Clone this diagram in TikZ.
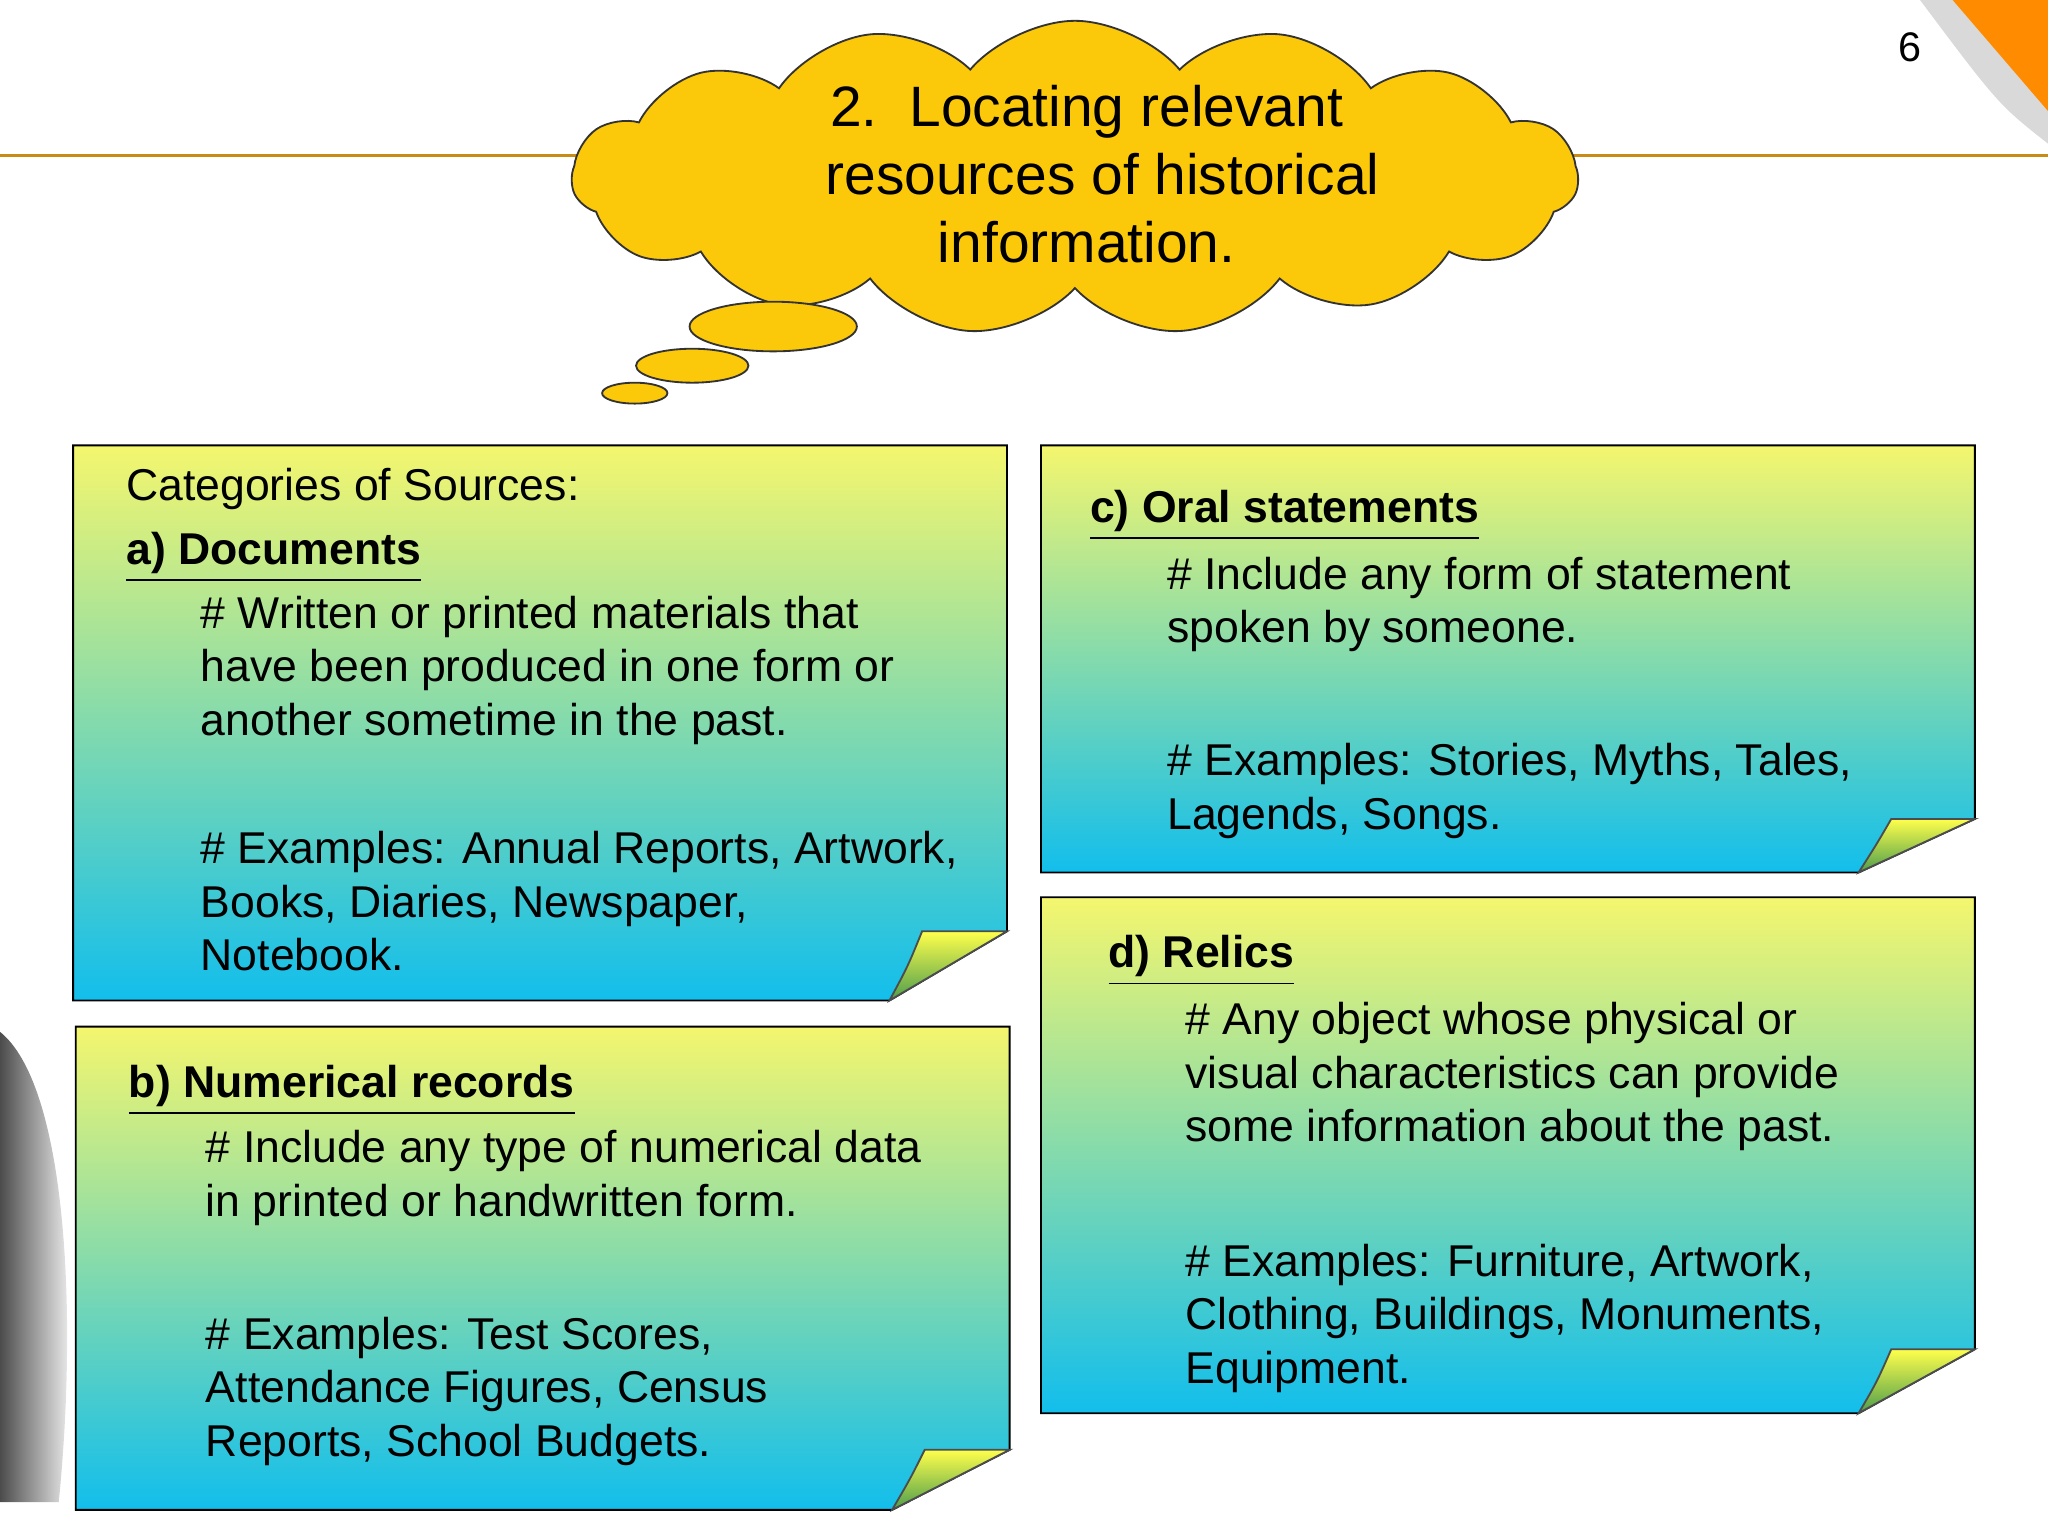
\documentclass[tikz,border=0pt]{standalone}
\usepackage{fontspec}
\setmainfont{Liberation Sans}
\usetikzlibrary{shapes.symbols,shapes.geometric,positioning}
\definecolor{topy}{RGB}{244,246,110}
\definecolor{boty}{RGB}{18,190,236}
\definecolor{cloudy}{RGB}{252,200,10}
\definecolor{rule}{RGB}{200,140,20}
\newcommand\lines[1]{\parbox[t]{8cm}{\raggedright #1}}

\begin{document}
\begin{tikzpicture}[x=0.01cm,y=-0.01cm,
  txt/.style={anchor=base west,inner sep=0pt,
    font=\fontsize{9.7}{11.7}\selectfont},%
  hd/.style={txt,font=\fontsize{9.7}{11.7}\selectfont\bfseries},%
  note/.style={draw=black,thin,top color=topy,bottom color=boty},%
  flap/.style={draw=black!70,thin,top color=yellow!70,bottom color=green!45!black!70},%
  puff/.style={ellipse,draw=black!80,fill=cloudy,inner sep=0pt},%
  ]
  \useasboundingbox (0,0) rectangle (1568,1176);

  % page decor
  \draw [rule,thick] (0,119) -- (1568,119);
  \shade [left color=black,right color=white,opacity=.7]
    (0,790) .. controls (50,830) and (60,1000) .. (45,1150) -- (0,1150) -- cycle;
  \fill [black!15] (1470,0) -- (1568,0) -- (1568,110) .. controls (1530,80) .. (1470,0);
  \fill [orange!90!yellow] (1495,0) -- (1568,0) -- (1568,85) -- cycle;
  \node (pg) [font=\fontsize{9}{10}\selectfont] at (1462,36) {6};

  % thought cloud
  \node (cloud) [cloud,cloud puffs=15,cloud puff arc=100,aspect=3.2,draw=black!80,fill=cloudy,
    minimum width=7.7cm,minimum height=2.4cm] at (823,136) {};
  \node (title) [align=center,font=\fontsize{12.4}{14.8}\selectfont]
    at (832,133) {2.\ \ Locating relevant\\ \ \ resources of historical\\information.};
  \node (p1) [puff,minimum width=1.28cm,minimum height=.38cm] at (592,250) {};
  \node (p2) [puff,minimum width=.86cm,minimum height=.26cm] at (530,280) {};
  \node (p3) [puff,minimum width=.5cm,minimum height=.16cm] at (486,301) {};

  % notes
  \draw [note] (56,341) -- (771,341) -- (771,713) -- (681,766) -- (56,766) -- cycle;
  \draw [flap] (681,766) .. controls (695,740) .. (706,713) -- (771,713) -- cycle;
  \draw [note] (58,786) -- (773,786) -- (773,1110) -- (683,1156) -- (58,1156) -- cycle;
  \draw [flap] (683,1156) .. controls (697,1132) .. (708,1110) -- (773,1110) -- cycle;
  \draw [note] (797,341) -- (1512,341) -- (1512,627) -- (1423,668) -- (797,668) -- cycle;
  \draw [flap] (1423,668) .. controls (1437,646) .. (1448,627) -- (1512,627) -- cycle;
  \draw [note] (797,687) -- (1512,687) -- (1512,1033) -- (1423,1082) -- (797,1082) -- cycle;
  \draw [flap] (1423,1082) .. controls (1437,1058) .. (1448,1033) -- (1512,1033) -- cycle;

  % a) documents
  \node (cat) [txt] at (96,383) {Categories of Sources:};
  \node (docs) [hd] at (96,432) {\underline{a) Documents}};
  \node (docsdef) [txt] at (153,481) {\lines{\# Written or printed materials that\\have been produced in one form or\\another sometime in the past.}};
  \node (docsex) [txt] at (153,661) {\lines{\# Examples: Annual Reports, Artwork,\\Books, Diaries, Newspaper,\\Notebook.}};

  % b) numerical records
  \node (num) [hd] at (98,840) {\underline{b) Numerical records}};
  \node (numdef) [txt] at (157,890) {\lines{\# Include any type of numerical data\\in printed or handwritten form.}};
  \node (numex) [txt] at (157,1033) {\lines{\# Examples: Test Scores,\\Attendance Figures, Census\\Reports, School Budgets.}};

  % c) oral statements
  \node (oral) [hd] at (834,400) {\underline{c) Oral statements}};
  \node (oraldef) [txt] at (893,451) {\lines{\# Include any form of statement\\spoken by someone.}};
  \node (oralex) [txt] at (893,594) {\lines{\# Examples: Stories, Myths, Tales,\\Lagends, Songs.}};

  % d) relics
  \node (rel) [hd] at (848,741) {\underline{d) Relics}};
  \node (reldef) [txt] at (907,792) {\lines{\# Any object whose physical or\\visual characteristics can provide\\some information about the past.}};
  \node (relex) [txt] at (907,977) {\lines{\# Examples: Furniture, Artwork,\\Clothing, Buildings, Monuments,\\Equipment.}};
\end{tikzpicture}
\end{document}
